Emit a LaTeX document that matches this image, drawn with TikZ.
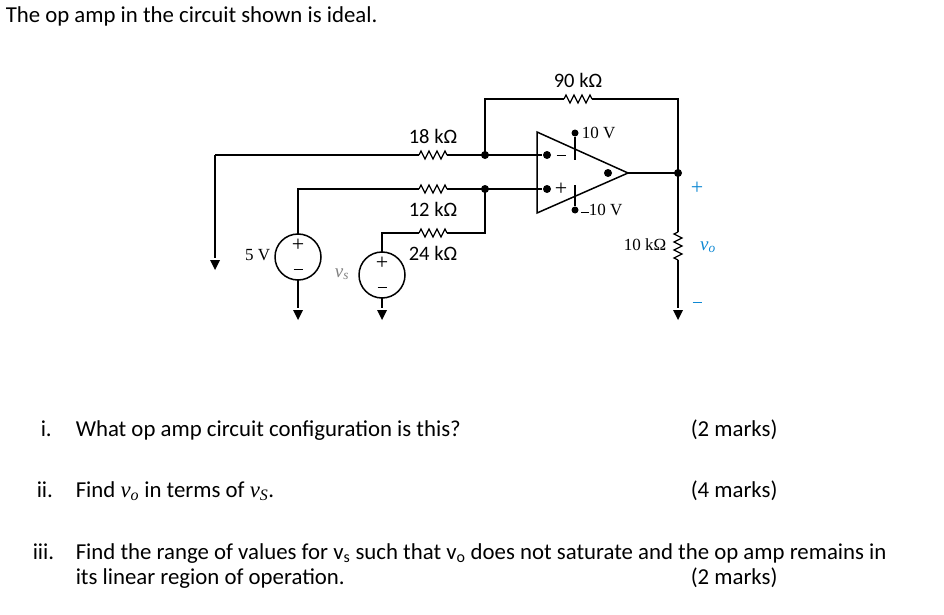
\documentclass[tikz,border=0pt]{standalone}
\usepackage{fontspec}
\setmainfont{Carlito}
\newfontfamily\serifc{Liberation Serif}
\begin{document}
\begin{tikzpicture}[x=1pt,y=-1pt,line width=1.5pt,
  dotn/.style={circle,fill,inner sep=0pt,minimum size=8pt},
  lab/.style={font=\fontsize{20.5}{22}\selectfont,inner sep=1pt},
  slab/.style={font=\serifc\fontsize{17}{19}\selectfont,inner sep=1pt},
  sign/.style={font=\serifc\fontsize{22}{22}\selectfont,inner sep=0pt},
  msign/.style={inner sep=0pt},
  qtext/.style={font=\fontsize{22.8}{26}\selectfont,anchor=base west,inner sep=0pt},
  src/.style={circle,draw,minimum size=46pt,inner sep=0pt,line width=1.5pt}]
\useasboundingbox (0,0) rectangle (944,615);
\def\hres#1#2{\draw[line width=1.3pt] (#1-14,#2) -- ++(2,-4) -- ++(4,8) -- ++(4,-8) -- ++(4,8) -- ++(4,-8) -- ++(4,8) -- ++(4,-8)--++(2,4);}
\def\vres#1#2{\draw[line width=1.3pt] (#1,#2-14) -- ++(-4,2) -- ++(8,4) -- ++(-8,4) -- ++(8,4) -- ++(-8,4) -- ++(8,4) -- ++(-8,4)--++(4,2);}
\def\gnd#1#2{\fill (#1-5,#2-10) -- (#1+5,#2-10) -- (#1,#2) -- cycle;}
\def\mbar{\rule{9pt}{1pt}}
\node[qtext] (t0) at (5,23) {The op amp in the circuit shown is ideal.};
\coordinate (nm) at (485,155);
\coordinate (np) at (485,189);
\coordinate (no) at (678,173);
% opamp
\draw (537,132) -- (537,213) -- (628,173) -- cycle;
\node[dotn] (im) at (547,155) {};
\node[dotn] (ip) at (547,189) {};
\node[dotn] (od) at (608,173) {};
\node[msign] (mi) at (561,155) {\mbar};
\node[sign] (pl) at (561,189) {+};
\node[dotn,minimum size=7pt] (vp) at (575,133) {};
\node[dotn,minimum size=7pt] (vn) at (575,210) {};
\draw (vp) -- (575,160);
\draw (vn) -- (575,185);
\node[slab,anchor=west] (l10) at (580,133) {10 V};
\node[slab,anchor=west] (l10n) at (579,210) {\raisebox{0.3ex}{\rule{8pt}{1pt}}10 V};
% wires
\draw (215,155) -- (419,155) (447,155) -- (nm) -- (im);
\hres{433}{155}
\node[dotn] (dm) at (nm) {};
\draw (215,155) -- (215,258); \gnd{215}{270}
\draw (nm) -- (485,99) -- (564,99) (592,99) -- (678,99) -- (no);
\hres{578}{99}
\draw (628,173) -- (no);
\node[dotn] (dout) at (no) {};
\draw (no) -- (678,232) (678,260) -- (678,308); \vres{678}{246} \gnd{678}{320}
% plus side
\node[src] (s5) at (298,257) {};
\node[src] (sv) at (382,275) {};
\draw (298,234) -- (298,189) -- (419,189) (447,189) -- (np) -- (ip);
\hres{433}{189}
\node[dotn] (dp) at (np) {};
\draw (382,252) -- (382,233) -- (419,233) (447,233) -- (485,233) -- (np);
\hres{433}{233}
\draw (298,280) -- (298,308); \gnd{298}{320}
\draw (382,298) -- (382,308); \gnd{382}{320}
\node[sign] (p5) at (298,245) {+};
\node[msign] (m5) at (298,269) {\mbar};
\node[sign] (pv) at (382,263) {+};
\node[msign] (mv) at (382,287) {\mbar};
% labels
\node[lab] (r90) at (578,80) {90 kΩ};
\node[lab] (r18) at (433,136) {18 kΩ};
\node[lab] (r12) at (433,209) {12 kΩ};
\node[lab] (r24) at (433,253) {24 kΩ};
\node[slab,anchor=east] (l5) at (272,255) {5 V};
\node[slab,gray,font=\serifc\itshape\fontsize{19}{19}\selectfont] (lvs) at (342,274) {v\textsubscript{s}};
\node[slab,anchor=east] (l10k) at (668,245) {10 kΩ};
\node[slab,text=cyan!70!blue,font=\serifc\itshape\fontsize{19}{19}\selectfont] (lvo) at (708,247) {v\textsubscript{o}};
\node[sign,text=cyan!70!blue] (lp) at (697,188) {+};
\node[msign,text=cyan!70!blue] (lm) at (697,302) {\mbar};
% questions
\node[qtext] (q1) at (40,436) {i.};
\node[qtext] (q1b) at (75,436) {What op amp circuit configuration is this?};
\node[qtext] (m1) at (690,436) {(2 marks)};
\node[qtext] (q2) at (36,497) {ii.};
\node[qtext] (q2b) at (75,497) {Find {\serifc\itshape v\textsubscript{o}} in terms of {\serifc\itshape v\textsubscript{S}}.};
\node[qtext] (m2) at (690,497) {(4 marks)};
\node[qtext] (q3) at (32,559) {iii.};
\node[qtext] (q3b) at (75,559) {Find the range of values for v\textsubscript{s} such that v\textsubscript{o} does not saturate and the op amp remains in};
\node[qtext] (q3c) at (75,584) {its linear region of operation.};
\node[qtext] (m3) at (690,584) {(2 marks)};
\end{tikzpicture}
\end{document}
